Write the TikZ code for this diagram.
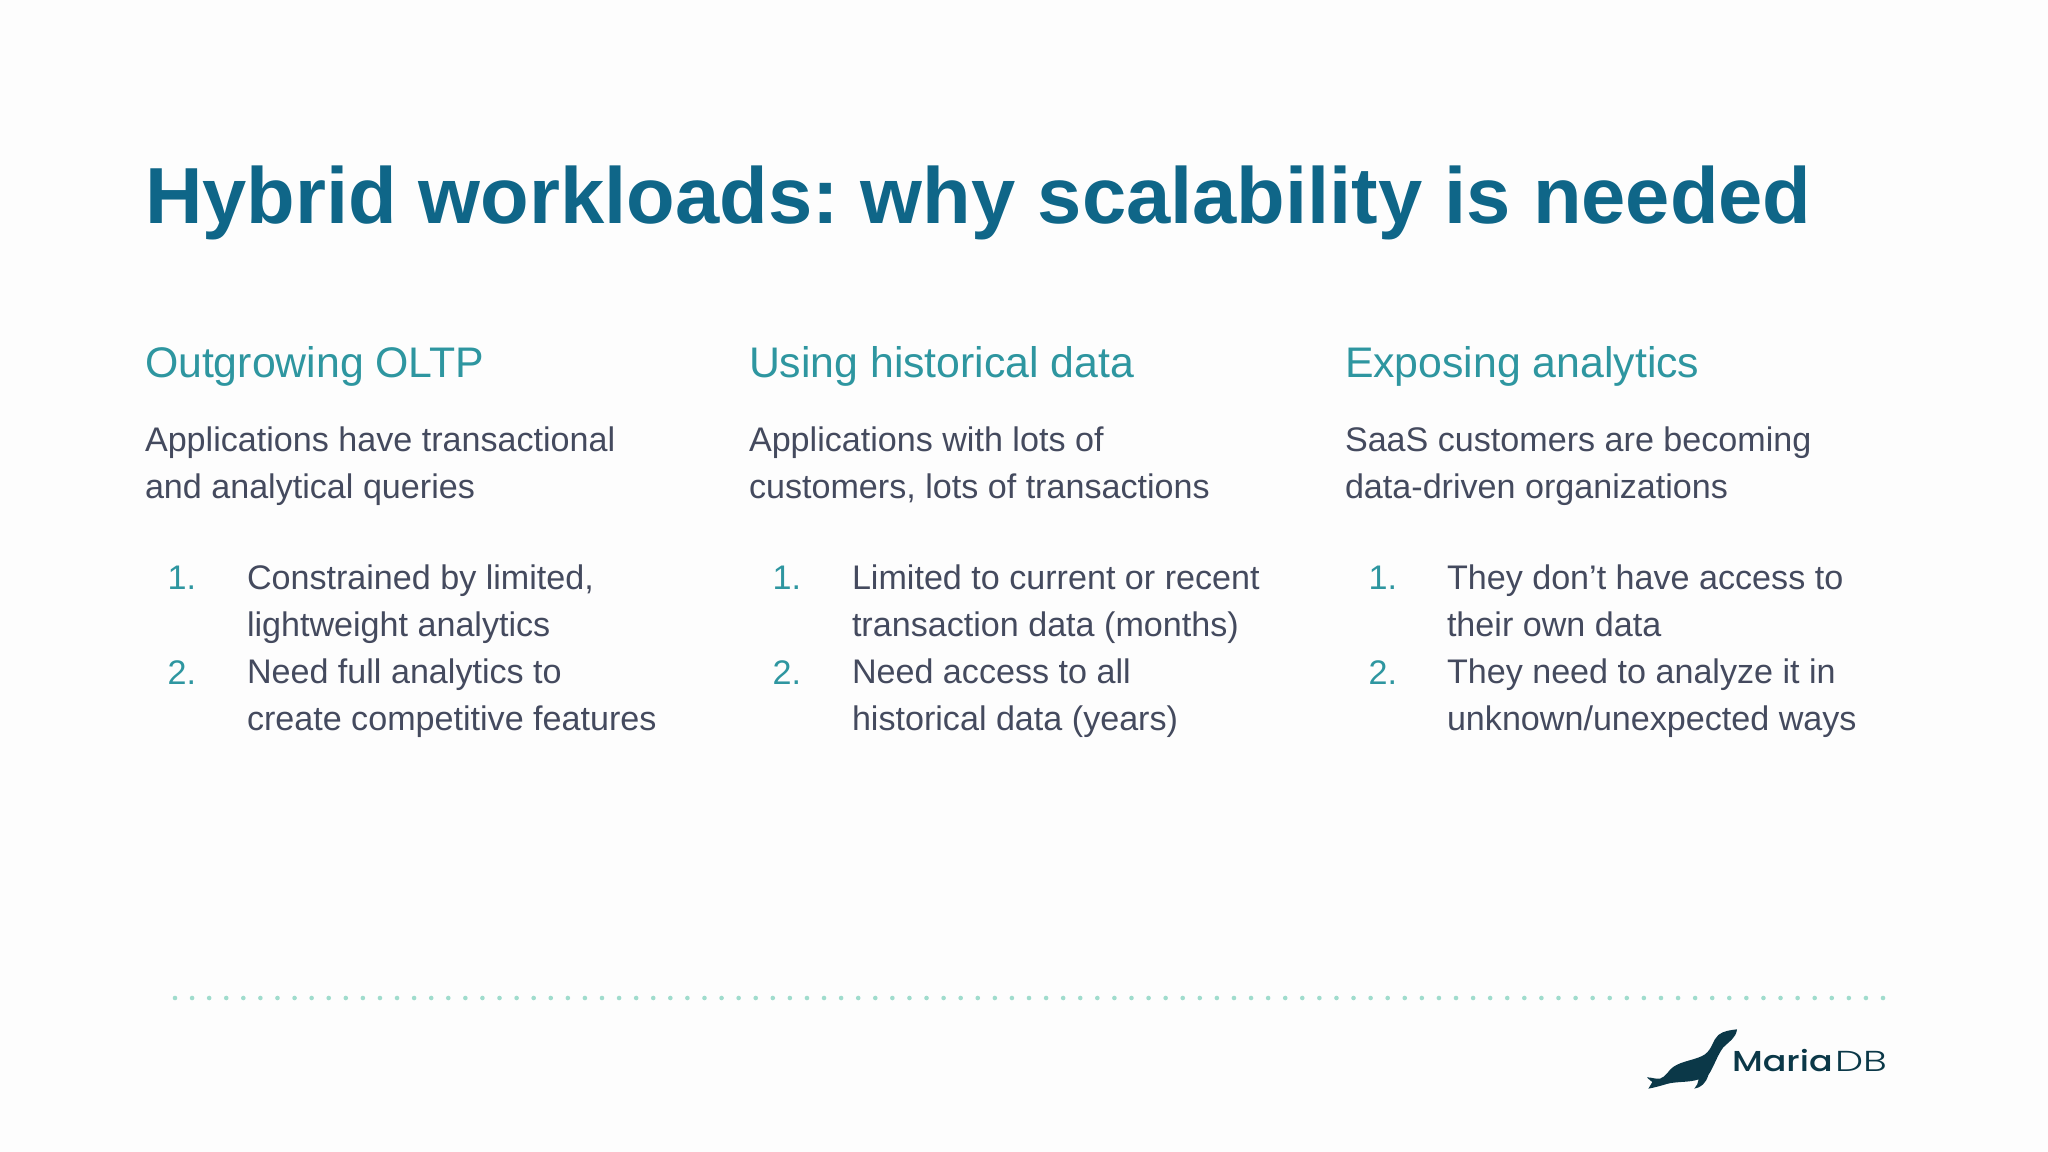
\documentclass[tikz,border=0pt]{standalone}
\usepackage{fontspec}
\setmainfont{Liberation Sans}
\newfontfamily\logofont[FakeStretch=1.21]{Poppins Medium}
\newfontfamily\logothin[FakeStretch=1.38]{Poppins Light}
\definecolor{slidebg}{RGB}{253, 253, 253}
\definecolor{titleblue}{RGB}{15, 102, 136}
\definecolor{headteal}{RGB}{46, 150, 160}
\definecolor{bodygrey}{RGB}{68, 74, 94}
\definecolor{dotmint}{RGB}{160, 220, 205}
\definecolor{sealdark}{RGB}{11, 56, 72}
\tikzset{
    every node/.style={inner sep=0pt, outer sep=0pt},
    slidetitle/.style={anchor=base west, text=titleblue,
        font=\frenchspacing\fontsize{22.62}{28}\selectfont\bfseries},
    colhead/.style={anchor=base west, text=headteal,
        font=\fontsize{12.17}{15}\selectfont},
    bodytext/.style={anchor=north west, align=left, text=bodygrey,
        font=\fontsize{9.7}{13.37}\selectfont},
    listnum/.style={anchor=base east, text=headteal,
        font=\fontsize{9.7}{13.37}\selectfont},
}
\begin{document}
\begin{tikzpicture}[x=.01cm, y=-.01cm]
    \path[fill=slidebg] (0, 0) rectangle (2048, 1152);
    \useasboundingbox (0, 0) rectangle (2048, 1152);
    \node[slidetitle] (title) at (145, 224)
        {Hybrid workloads: why scalability is needed};
    % first column
    \node[colhead] (headoltp) at (145, 378) {Outgrowing OLTP};
    \node[bodytext] (introoltp) at (145, 427)
        {Applications have transactional\\and analytical queries};
    \node[listnum] (numoltpa) at (196, 590) {1.};
    \node[bodytext] (itemoltpa) at (247, 565)
        {Constrained by limited,\\lightweight analytics};
    \node[listnum] (numoltpb) at (196, 684) {2.};
    \node[bodytext] (itemoltpb) at (247, 659)
        {Need full analytics to\\create competitive features};
    % second column
    \node[colhead] (headhist) at (749, 378) {Using historical data};
    \node[bodytext] (introhist) at (749, 427)
        {Applications with lots of\\customers, lots of transactions};
    \node[listnum] (numhista) at (801, 590) {1.};
    \node[bodytext] (itemhista) at (852, 565)
        {Limited to current or recent\\transaction data (months)};
    \node[listnum] (numhistb) at (801, 684) {2.};
    \node[bodytext] (itemhistb) at (852, 659)
        {Need access to all\\historical data (years)};
    % third column
    \node[colhead] (headsaas) at (1345, 378) {Exposing analytics};
    \node[bodytext] (introsaas) at (1345, 427)
        {SaaS customers are becoming\\data-driven organizations};
    \node[listnum] (numsaasa) at (1397, 590) {1.};
    \node[bodytext] (itemsaasa) at (1447, 565)
        {They don’t have access to\\their own data};
    \node[listnum] (numsaasb) at (1397, 684) {2.};
    \node[bodytext] (itemsaasb) at (1447, 659)
        {They need to analyze it in\\unknown/unexpected ways};
    % footer
    \foreach \i in {0, ..., 100}
        \fill[dotmint] (175 + 17.08*\i, 998) circle (2.3);
    \begin{scope}[shift={(1640, 1020)}, x=.01cm/3, y=-.01cm/3]
        \fill[sealdark] (291, 28) .. controls (275, 30) and (250, 32) .. (235, 45)
            .. controls (218, 60) and (218, 85) .. (195, 103)
            .. controls (170, 120) and (125, 122) .. (98, 142)
            .. controls (85, 152) and (78, 170) .. (60, 176)
            .. controls (48, 178) and (35, 172) .. (21, 172)
            .. controls (26, 178) and (32, 182) .. (37, 186)
            -- (25, 206)
            .. controls (42, 203) and (60, 198) .. (80, 192)
            .. controls (105, 184) and (150, 188) .. (176, 178)
            .. controls (175, 188) and (170, 198) .. (163, 206)
            .. controls (182, 203) and (198, 190) .. (205, 165)
            .. controls (222, 140) and (232, 105) .. (250, 82)
            .. controls (265, 66) and (288, 55) .. (291, 28) -- cycle;
    \end{scope}
    \node[anchor=base west, text=sealdark, font=\logofont\fontsize{8.2}{11}\selectfont]
        (logomaria) at (1732, 1071) {Maria};
    \node[anchor=base west, text=sealdark, font=\logothin\fontsize{8.2}{11}\selectfont]
        (logodb) at (1835, 1071) {DB};
\end{tikzpicture}
\end{document}
